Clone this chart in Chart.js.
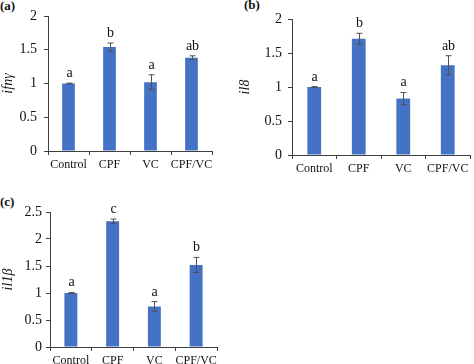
<!DOCTYPE html>
<html>
<head>
<meta charset="utf-8">
<script src="https://cdn.jsdelivr.net/npm/chart.js@4.4.1/dist/chart.umd.min.js"></script>
<style>
  html, body { margin: 0; padding: 0; background: #fff; }
  body { width: 474px; height: 364px; position: relative; overflow: hidden; }
  .panel { position: absolute; }
  .plabel { position: absolute; font-family: "Liberation Serif", serif; font-weight: bold; font-size: 13px; line-height: 13px; color: #111; }
</style>
</head>
<body>
<div class="plabel" style="left:0px; top:-1px;">(a)</div>
<div class="plabel" style="left:244px; top:-2px;">(b)</div>
<div class="plabel" style="left:0px; top:195px;">(c)</div>
<div class="panel" style="left:0px; top:0px; width:230px; height:180px;"><canvas id="ca"></canvas></div>
<div class="panel" style="left:237px; top:0px; width:237px; height:180px;"><canvas id="cb"></canvas></div>
<div class="panel" style="left:0px; top:180px; width:230px; height:184px;"><canvas id="cc"></canvas></div>
<script>
const categories = ['Control', 'CPF', 'VC', 'CPF/VC'];

const ifngValues = [1.00, 1.54, 1.02, 1.38];
const ifngErrors = [0.005, 0.06, 0.11, 0.03];
const ifngLetters = ['a', 'b', 'a', 'ab'];

const il8Values = [1.00, 1.71, 0.83, 1.32];
const il8Errors = [0.005, 0.08, 0.09, 0.14];
const il8Letters = ['a', 'b', 'a', 'ab'];

const il1bValues = [1.00, 2.33, 0.75, 1.52];
const il1bErrors = [0.01, 0.04, 0.09, 0.14];
const il1bLetters = ['a', 'c', 'a', 'b'];

const yTicksA = [0, 0.5, 1, 1.5, 2];
const yTicksC = [0, 0.5, 1, 1.5, 2, 2.5];

const SERIF = '"Liberation Serif", "Times New Roman", serif';
const BAR = '#4472C4';
const AXIS = '#404040';

const errorPlugin = {
  id: 'errLetters',
  afterDatasetsDraw(chart, args, opts) {
    const ctx = chart.ctx;
    const xs = chart.scales.x, ys = chart.scales.y;
    const vals = chart.data.datasets[0].data;
    ctx.save();
    ctx.strokeStyle = '#505050';
    ctx.lineWidth = 1;
    vals.forEach((v, i) => {
      const x = Math.round(xs.getPixelForValue(i)) + 0.5;
      const e = opts.errors[i];
      const yt = ys.getPixelForValue(v + e);
      const yb = ys.getPixelForValue(v - e);
      ctx.beginPath();
      ctx.moveTo(x, yt); ctx.lineTo(x, yb);
      ctx.moveTo(x - 3, yt); ctx.lineTo(x + 3, yt);
      ctx.moveTo(x - 3, yb); ctx.lineTo(x + 3, yb);
      ctx.stroke();
      ctx.fillStyle = '#111';
      ctx.font = '14px ' + SERIF;
      ctx.textAlign = 'center';
      ctx.textBaseline = 'alphabetic';
      ctx.fillText(opts.letters[i], x, yt - 6);
    });
    ctx.restore();
  }
};

function makeChart(id, values, errors, letters, ticks, yMax, yTitle, cfg) {
  return new Chart(document.getElementById(id), {
    type: 'bar',
    data: {
      labels: categories,
      datasets: [{ data: values, backgroundColor: BAR, borderWidth: 0, barPercentage: 0.31, categoryPercentage: 1.0 }]
    },
    plugins: [errorPlugin],
    options: {
      responsive: true,
      maintainAspectRatio: false,
      animation: false,
      events: [],
      layout: { padding: { left: 0, right: cfg.padRight, top: cfg.padTop, bottom: 0 } },
      plugins: {
        legend: { display: false },
        tooltip: { enabled: false },
        errLetters: { errors: errors, letters: letters }
      },
      scales: {
        x: {
          grid: { display: true, drawOnChartArea: false, drawTicks: true, tickLength: 4, color: AXIS, offset: true },
          border: { display: true, color: AXIS, width: 1 },
          ticks: { color: '#111', font: { family: SERIF, size: 12 }, padding: 3, maxRotation: 0, autoSkip: false },
          afterFit(s) { s.height = cfg.xHeight; }
        },
        y: {
          min: 0, max: yMax,
          afterBuildTicks(s) { s.ticks = ticks.map(v => ({ value: v })); },
          grid: { display: true, drawOnChartArea: false, drawTicks: true, tickLength: 4, color: AXIS },
          border: { display: true, color: AXIS, width: 1 },
          ticks: { color: '#111', font: { family: SERIF, size: 14 }, padding: cfg.tickPad, callback: v => String(v) },
          title: { display: true, text: yTitle, color: '#111', font: { family: SERIF, size: 14, style: 'italic' }, padding: { top: 0, bottom: 0 } },
          afterFit(s) { s.width = cfg.yWidth; }
        }
      }
    }
  });
}

makeChart('ca', ifngValues, ifngErrors, ifngLetters, yTicksA, 2, 'ifnγ', { padRight: 18, padTop: 16, xHeight: 29, yWidth: 48, tickPad: 7 });
makeChart('cb', il8Values, il8Errors, il8Letters, yTicksA, 2, 'il8', { padRight: 4, padTop: 19, xHeight: 25, yWidth: 55, tickPad: 6 });
makeChart('cc', il1bValues, il1bErrors, il1bLetters, yTicksC, 2.5, 'il1β', { padRight: 13, padTop: 32, xHeight: 17, yWidth: 50, tickPad: 4 });
</script>
</body>
</html>
